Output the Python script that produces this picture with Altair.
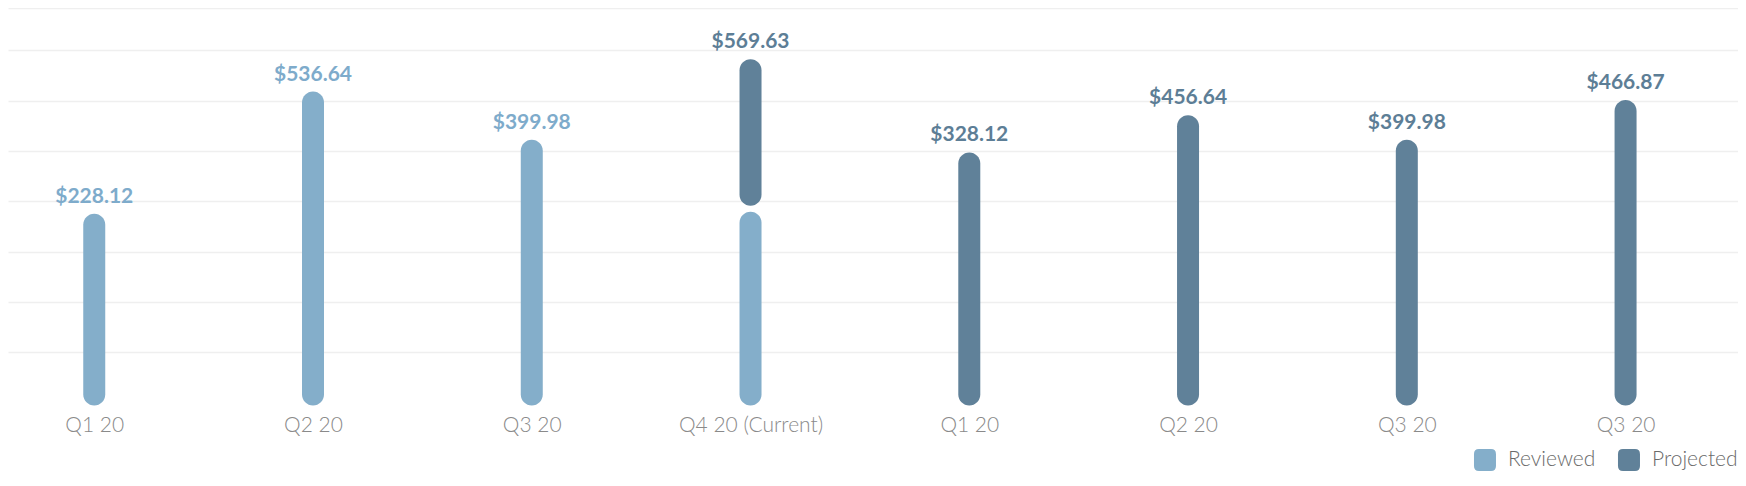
import json
import altair as alt
import pandas as pd

# ---- data ----
categories = ["Q1 20", "Q2 20", "Q3 20", "Q4 20 (Current)", "Q1 20", "Q2 20", "Q3 20", "Q3 20"]
value_labels = ["$228.12", "$536.64", "$399.98", "$569.63", "$328.12", "$456.64", "$399.98", "$466.87"]
label_series = ["Reviewed", "Reviewed", "Reviewed", "Projected", "Projected", "Projected", "Projected", "Projected"]

# bar segments (bar heights as drawn, in grid units of 100)
seg_index = [0, 1, 2, 3, 3, 4, 5, 6, 7]
seg_series = ["Reviewed", "Reviewed", "Reviewed", "Reviewed", "Projected", "Projected", "Projected", "Projected", "Projected"]
seg_start = [-6, -6, -6, -6, 391, -6, -6, -6, -6]
seg_end = [375, 618, 522, 379, 682, 497, 571, 522, 601]

series_names = ["Reviewed", "Projected"]
series_colors = ["#84aeca", "#608199"]
label_colors = ["#7eabcb", "#5d7e96"]

grid_values = [100, 200, 300, 400, 500, 600, 700, 784]

bars_df = pd.DataFrame({"idx": seg_index, "series": seg_series, "start": seg_start, "end": seg_end})
labels_df = pd.DataFrame({
    "idx": list(range(len(categories))),
    "top": [max(e for i, e in zip(seg_index, seg_end) if i == k) for k in range(len(categories))],
    "text": value_labels,
    "series": label_series,
})

FONT = "Lato"
x_scale = alt.Scale(domain=[-0.3713, 7.491], nice=False, zero=False)
y_scale = alt.Scale(domain=[-6.2, 784], nice=False, zero=False)
label_expr = json.dumps(categories) + "[round(datum.value)]"

x_enc = alt.X(
    "idx:Q", scale=x_scale, title=None,
    axis=alt.Axis(values=list(range(len(categories))), labelExpr=label_expr, grid=False,
                  domain=False, ticks=False, labelPadding=9, labelFont=FONT, labelFontSize=21,
                  labelFontWeight=300, labelColor="#8a8a8a", labelFlush=False),
)

bars = alt.Chart(bars_df).mark_bar(size=22, cornerRadius=11).encode(
    x=x_enc,
    y=alt.Y("end:Q", scale=y_scale, title=None,
            axis=alt.Axis(values=grid_values, labels=False, ticks=False, domain=False,
                          grid=True, gridColor="#efefef", gridWidth=1.5)),
    y2="start:Q",
    color=alt.Color("series:N", scale=alt.Scale(domain=series_names, range=series_colors),
                    title=None,
                    legend=alt.Legend(orient="none", legendX=1466, legendY=441, direction="horizontal",
                                      symbolType="M-1,-0.55Q-1,-1,-0.55,-1L0.55,-1Q1,-1,1,-0.55L1,0.55Q1,1,0.55,1L-0.55,1Q-1,1,-1,0.55Z",
                                      symbolSize=484, symbolStrokeWidth=0, symbolOpacity=1,
                                      labelFont=FONT, labelFontSize=21, labelFontWeight=300,
                                      labelColor="#6a6a6a", labelOffset=12, columnPadding=22,
                                      padding=0)),
)

texts = alt.Chart(labels_df).mark_text(
    font=FONT, fontSize=21, fontWeight=700, dy=-11, baseline="alphabetic", align="center"
).encode(
    x=alt.X("idx:Q", scale=x_scale),
    y=alt.Y("top:Q", scale=y_scale),
    text="text:N",
    color=alt.Color("series:N", scale=alt.Scale(domain=series_names, range=label_colors), legend=None),
)

chart = alt.layer(bars, texts).resolve_scale(color="independent").properties(
    width=1730, height=397.7,
    padding={"left": 0, "top": 0, "right": 0, "bottom": 72},
    autosize=alt.AutoSizeParams(type="none"),
).configure_view(stroke=None)

chart.save("out.html", embed_options={"renderer": "svg", "actions": False})
